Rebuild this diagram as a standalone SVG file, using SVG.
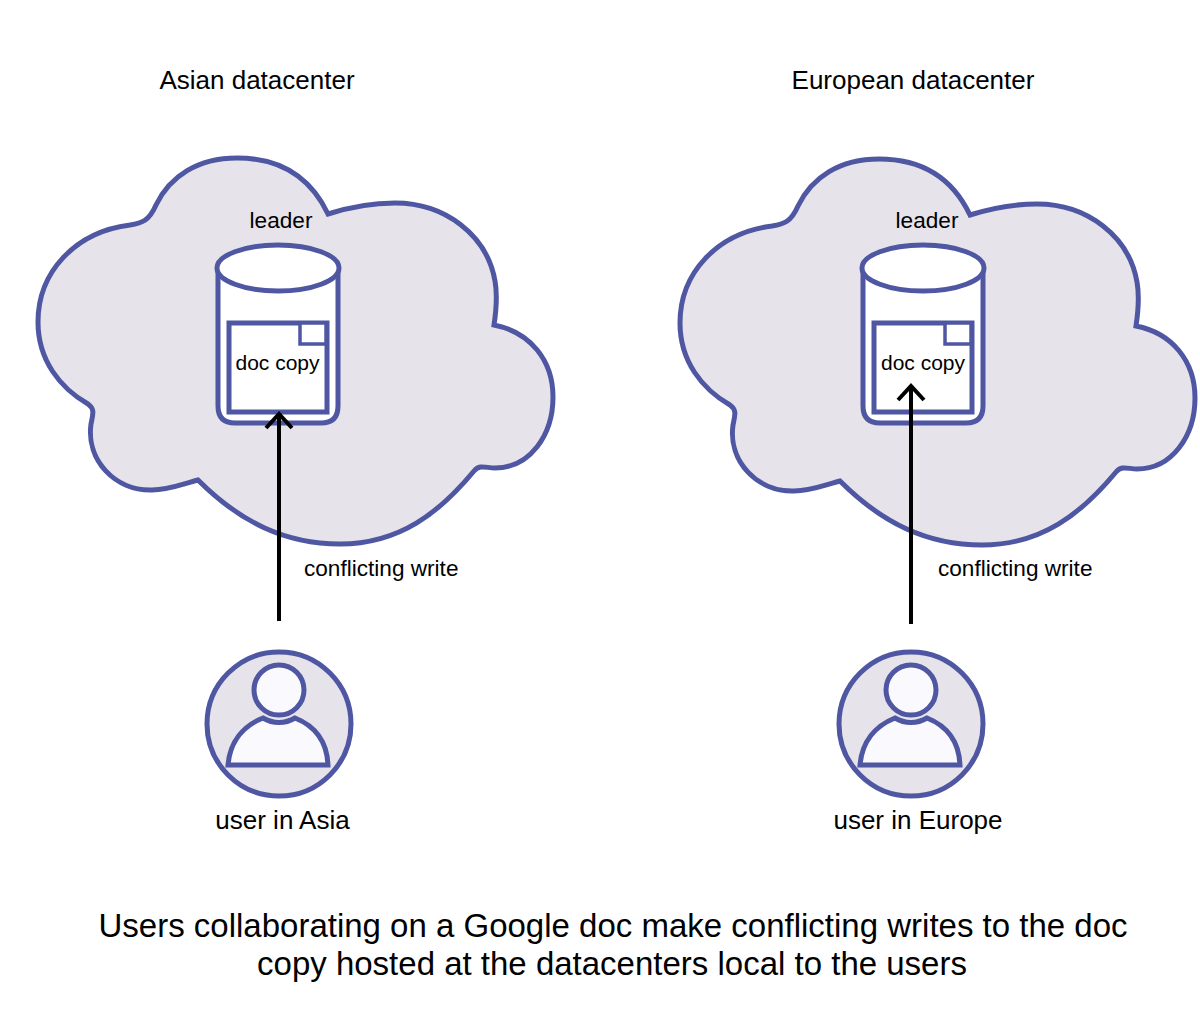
<svg xmlns="http://www.w3.org/2000/svg" width="1200" height="1012" viewBox="0 0 1200 1012">
<style>
text{font-family:"Liberation Sans",Arial,sans-serif;fill:#000}
.s{stroke:#4f57a3;stroke-width:5;stroke-linejoin:miter}
.cl{fill:#e6e3eb}
.w{fill:#fff}
.t26{font-size:26px}
.t22{font-size:22.600px}
.t21{font-size:21px}
.t33{font-size:33px}
.ar{fill:none;stroke:#000;stroke-width:4}
</style>
<defs>
<path id="cloud" d="M328,214 C308,172 275,158 237,158 C198,158 170,176 156,205 C149,221 142,223 130,225 C75,232 38,272 38,322 C38,360 60,388 88,404 C95,409 93,414 91,424 C86,460 115,491 152,490 C168,490 183,484 198,480 C240,522 285,544 340,544 C400,544 440,512 474,471 C480,464 486,468 495,468 C530,468 553,435 553,397 C553,360 530,332 494,325 C497,305 497,292 495,281 C487,235 445,203 395,203 C370,203 350,207 328,214 Z"/>
<g id="cyl">
<path class="s w" d="M218,268 V406 Q218,423 235,423 H321 Q338,423 338,406 V268 Z"/>
<ellipse class="s w" cx="278" cy="268" rx="61" ry="23"/>
<rect class="s w" x="229" y="323" width="98" height="89"/>
<rect x="300" y="323" width="26" height="21" fill="#fff" stroke="#4f57a3" stroke-width="3.500"/>
</g>
<g id="person">
<circle class="s cl" cx="0" cy="0" r="72"/>
<circle cx="0" cy="-34" r="25" fill="#faf9fd" stroke="#4f57a3" stroke-width="5"/>
<path fill="#faf9fd" stroke="#4f57a3" stroke-width="5" d="M-51,41 C-49,18 -36,2 -16,-6 C-6,0 6,0 16,-6 C36,2 48,18 49,41 Z"/>
</g>
</defs>
<g id="asia-cloud"><use href="#cloud" class="s cl"/></g>
<g id="europe-cloud"><use href="#cloud" class="s cl" x="642" y="1"/></g>
<g id="asia-leader"><use href="#cyl"/><text class="t22" x="281" y="228" text-anchor="middle">leader</text><text class="t21" x="277.500" y="370" text-anchor="middle">doc copy</text></g>
<g id="europe-leader"><use href="#cyl" x="645"/><text class="t22" x="927" y="228" text-anchor="middle">leader</text><text class="t21" x="923" y="370" text-anchor="middle">doc copy</text></g>
<g id="asia-user"><use href="#person" x="279" y="724"/><text class="t26" x="282.500" y="829" text-anchor="middle">user in Asia</text></g>
<g id="europe-user"><use href="#person" x="911" y="724"/><text class="t26" x="918" y="829" text-anchor="middle">user in Europe</text></g>
<g id="connectors">
<path class="ar" d="M279,621 V414 M266,428 L279,414 L292,428"/>
<path class="ar" d="M911,624 V386 M898,400 L911,386 L924,400"/>
</g>
<text class="t22" x="304" y="576">conflicting write</text>
<text class="t22" x="938" y="576">conflicting write</text>
<text class="t26" x="257" y="89" text-anchor="middle">Asian datacenter</text>
<text class="t26" x="913" y="89" text-anchor="middle">European datacenter</text>
<text class="t33" x="613" y="937" text-anchor="middle">Users collaborating on a Google doc make conflicting writes to the doc</text>
<text class="t33" x="612" y="975" text-anchor="middle">copy hosted at the datacenters local to the users</text>
</svg>
